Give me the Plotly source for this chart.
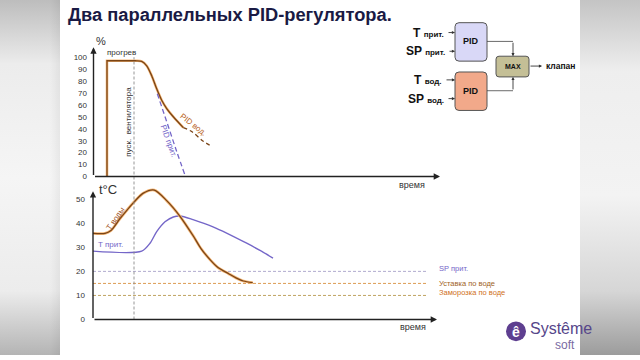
import base64
import plotly.graph_objects as go

W, H = 640, 360
# ---------------- data ----------------
# top chart: valve opening, % (time in arbitrary units)
warm_t = [14, 14, 41]
warm_v = [0, 97, 97]
pid_water_t = [41, 43.7, 48.7, 53.7, 58.7, 63.7, 68.7, 73.7, 80.3, 90.3]
pid_water_v = [97, 97, 96.5, 92.8, 84.5, 73.5, 63.9, 57, 50.1, 41]
pid_water_dash_t = [90.3, 98.7, 110.3, 118.7]
pid_water_dash_v = [41, 37.7, 29.5, 25.4]
pid_air_t = [64.3, 73.7, 83.7, 92.5]
pid_air_v = [69.4, 46, 21, 0]
fan_start_t = 41
top_ticks = [0, 10, 20, 30, 40, 50, 60, 70, 80, 90, 100]

# bottom chart: temperatures, °C
water_t = [0, 12, 18, 27, 41, 50.3, 61.3, 73.7, 87, 100.3, 108, 117, 125, 135.3, 143, 150.3, 159.7]
water_v = [35.8, 35.8, 37, 41.9, 48.8, 52.5, 53.8, 49.4, 42.9, 34.7, 29.5, 24.9, 21.6, 19.1, 17.3, 16, 15.3]
air_t = [0, 48.7, 57, 63.7, 72, 80.3, 87, 100, 120, 153.7, 167, 180]
air_v = [28.4, 28.4, 31.7, 36.5, 40.6, 42.6, 43, 41.5, 38.5, 31.7, 28.7, 25.5]
sp_air = 20
sp_water = 15
freeze_water = 10
bottom_ticks = [0, 10, 20, 30, 40, 50]
hline_end_t = 334

C_BROWN = "#7a4416"
C_GLOW = "#f5b878"
C_ORANGE = "#b8641e"
C_PURPLE = "#7466c8"
C_TEXT = "#333333"

def px(x):
    return x / W

def py(y):
    return 1 - y / H

fig = go.Figure()

# ---- background (side strips with gradients) ----
svg = f'''<svg xmlns="http://www.w3.org/2000/svg" width="{W}" height="{H}" viewBox="0 0 {W} {H}" preserveAspectRatio="none">
<defs>
<linearGradient id="l" x1="0" y1="0" x2="0" y2="1">
<stop offset="0" stop-color="#bdbdbd"/><stop offset="0.18" stop-color="#ececec"/>
<stop offset="0.5" stop-color="#f5f5f5"/><stop offset="0.82" stop-color="#ececec"/>
<stop offset="1" stop-color="#b4b4b4"/></linearGradient>
<linearGradient id="r" x1="0" y1="0" x2="0" y2="1">
<stop offset="0" stop-color="#c4c4c4"/><stop offset="0.2" stop-color="#eeeeee"/>
<stop offset="0.55" stop-color="#f3f3f3"/><stop offset="0.82" stop-color="#d6d6d6"/>
<stop offset="1" stop-color="#9c9c9c"/></linearGradient>
<linearGradient id="sh" x1="0" y1="0" x2="1" y2="0">
<stop offset="0" stop-color="#000" stop-opacity="0"/><stop offset="1" stop-color="#000" stop-opacity="0.05"/></linearGradient>
</defs>
<rect x="0" y="0" width="60" height="{H}" fill="url(#l)"/>
<rect x="50" y="0" width="10" height="{H}" fill="url(#sh)"/>
<rect x="580" y="0" width="60" height="{H}" fill="url(#r)"/>
<rect x="60" y="0" width="520" height="{H}" fill="#ffffff"/>
</svg>'''
src = "data:image/svg+xml;base64," + base64.b64encode(svg.encode()).decode()
fig.add_layout_image(dict(source=src, xref="paper", yref="paper", x=0, y=1,
                          sizex=1, sizey=1, xanchor="left", yanchor="top",
                          sizing="stretch", layer="below"))

# ---- top chart traces ----
fig.add_trace(go.Scatter(x=warm_t, y=warm_v, mode="lines", xaxis="x", yaxis="y",
                         line=dict(color=C_GLOW, width=2.6), hoverinfo="skip"))
fig.add_trace(go.Scatter(x=pid_water_t, y=pid_water_v, mode="lines", xaxis="x", yaxis="y",
                         line=dict(color=C_GLOW, width=2.6, shape="spline", smoothing=0.8), hoverinfo="skip"))
fig.add_trace(go.Scatter(x=warm_t, y=warm_v, mode="lines", xaxis="x", yaxis="y",
                         line=dict(color=C_BROWN, width=1.3), hoverinfo="skip"))
fig.add_trace(go.Scatter(x=pid_water_t, y=pid_water_v, mode="lines", xaxis="x", yaxis="y",
                         line=dict(color=C_BROWN, width=1.3, shape="spline", smoothing=0.8), hoverinfo="skip"))
fig.add_trace(go.Scatter(x=pid_water_dash_t, y=pid_water_dash_v, mode="lines", xaxis="x", yaxis="y",
                         line=dict(color=C_BROWN, width=1.3, dash="4px,3px", shape="spline"), hoverinfo="skip"))
fig.add_trace(go.Scatter(x=pid_air_t, y=pid_air_v, mode="lines", xaxis="x", yaxis="y",
                         line=dict(color=C_PURPLE, width=1.3, dash="5px,3px", shape="spline"), hoverinfo="skip"))

# ---- bottom chart traces ----
for yv, col in [(sp_air, "#a8a2c8"), (sp_water, "#d89040"), (freeze_water, "#b89a50")]:
    fig.add_trace(go.Scatter(x=[0, hline_end_t], y=[yv, yv], mode="lines", xaxis="x2", yaxis="y2",
                             line=dict(color=col, width=0.9, dash="3px,2px"), hoverinfo="skip"))
fig.add_trace(go.Scatter(x=air_t, y=air_v, mode="lines", xaxis="x2", yaxis="y2",
                         line=dict(color=C_PURPLE, width=1.4, shape="spline", smoothing=0.8), hoverinfo="skip"))
fig.add_trace(go.Scatter(x=water_t, y=water_v, mode="lines", xaxis="x2", yaxis="y2",
                         line=dict(color=C_GLOW, width=2.8, shape="spline", smoothing=0.8), hoverinfo="skip"))
fig.add_trace(go.Scatter(x=water_t, y=water_v, mode="lines", xaxis="x2", yaxis="y2",
                         line=dict(color=C_BROWN, width=1.3, shape="spline", smoothing=0.8), hoverinfo="skip"))

# fan start dashed vertical
fig.add_shape(type="line", xref="x", yref="paper", x0=fan_start_t, x1=fan_start_t,
              y0=py(324), y1=py(58), line=dict(color="#8a8a8a", width=0.9, dash="3px,2px"))

ax_common = dict(showgrid=False, zeroline=False, showline=False, ticks="",
                 tickfont=dict(size=8, color=C_TEXT, family="Liberation Sans, Arial"))
fig.update_layout(
    width=W, height=H, margin=dict(l=0, r=0, t=0, b=0),
    paper_bgcolor="#ffffff", plot_bgcolor="rgba(0,0,0,0)", showlegend=False,
    xaxis=dict(domain=[px(93), px(445)], range=[0, 352], anchor="y", showticklabels=False, **ax_common),
    yaxis=dict(domain=[py(179), py(40)], range=[0, (179 - 40) / 1.21], anchor="x",
               tickvals=top_ticks, ticklabelstandoff=5, **ax_common),
    xaxis2=dict(domain=[px(93), px(445)], range=[0, 352], anchor="y2", showticklabels=False, **ax_common),
    yaxis2=dict(domain=[py(324), py(180)], range=[0, (324 - 180) / 2.44], anchor="x2",
                tickvals=bottom_ticks, ticklabelstandoff=7, **ax_common),
)

ann = []
FONT = "Liberation Sans, Arial"

def arrow(xh, yh, xt, yt, xr, yr, w=1.4):
    ann.append(dict(x=xh, y=yh, ax=xt, ay=yt, xref=xr, yref=yr, axref=xr, ayref=yr,
                    text="", showarrow=True, arrowhead=2, arrowsize=0.9, arrowwidth=w,
                    arrowcolor="#222"))

# axes with arrows
arrow(347, 0, 0.5, 0, "x", "y")
arrow(0.5, (179 - 48) / 1.21, 0.5, 0, "x", "y")
arrow(344, 0, 0, 0, "x2", "y2")
arrow(0, (324 - 194) / 2.44, 0, 0, "x2", "y2")

def txt(x, y, s, size=8, color=C_TEXT, xa="center", ya="middle", angle=0, bold=False):
    ann.append(dict(x=px(x), y=py(y), xref="paper", yref="paper", text=(f"<b>{s}</b>" if bold else s),
                    showarrow=False, xanchor=xa, yanchor=ya, textangle=angle,
                    font=dict(size=size, color=color, family=FONT)))

txt(66, 15, "Два параллельных PID-регулятора.", size=18.3, color="#1a1a44", xa="left", bold=True)
txt(101, 42, "%", size=11)
txt(108, 192, "t°C", size=13)
txt(412, 188, "время", size=9)
txt(413, 332, "время", size=9)
txt(121, 53, "прогрев", size=8)
txt(128.5, 124, "пуск.  вентилятора", size=8, angle=-90)
txt(193, 126, "PID вод.", size=8, color=C_ORANGE, angle=38)
txt(169, 143, "PID прит.", size=8, color=C_PURPLE, angle=70)
txt(116, 222, "T воды", size=8, color="#a0521e", angle=-55)
txt(96, 248, "T прит.", size=8, color=C_PURPLE, xa="left")
txt(437, 272, "SP прит.", size=7.5, color=C_PURPLE, xa="left")
txt(437, 287, "Уставка по воде", size=7.5, color="#a0621e", xa="left")
txt(437, 297, "Заморозка по воде", size=7.5, color="#d07020", xa="left")

# ---- block diagram ----
def rbox(x0, y0, x1, y1, fill, r=4):
    X0, X1 = px(x0), px(x1)
    Y0, Y1 = py(y0), py(y1)
    rx, ry = r / W, r / H
    path = (f"M{X0+rx},{Y0} L{X1-rx},{Y0} Q{X1},{Y0} {X1},{Y0-ry} L{X1},{Y1+ry} "
            f"Q{X1},{Y1} {X1-rx},{Y1} L{X0+rx},{Y1} Q{X0},{Y1} {X0},{Y1+ry} "
            f"L{X0},{Y0-ry} Q{X0},{Y0} {X0+rx},{Y0} Z")
    fig.add_shape(type="path", xref="paper", yref="paper", path=path,
                  fillcolor=fill, line=dict(color="#555555", width=1))

rbox(455, 23, 487, 62, "#d9d8f7")
rbox(455, 73, 487, 112, "#f2a98a")
rbox(496, 57, 529, 78, "#c4bf96", r=3)
txt(471, 42, "PID", size=9, color="#111", bold=True)
txt(471, 92, "PID", size=9, color="#111", bold=True)
txt(512.5, 67.5, "MAX", size=7, color="#111", bold=True)

def seg(x0, y0, x1, y1):
    fig.add_shape(type="line", xref="paper", yref="paper", x0=px(x0), y0=py(y0), x1=px(x1), y1=py(y1),
                  line=dict(color="#444", width=0.8))

def parrow(xh, yh, xt, yt):
    ann.append(dict(x=px(xh), y=py(yh), ax=xt - xh, ay=yt - yh, xref="paper", yref="paper",
                    axref="pixel", ayref="pixel", text="", showarrow=True, arrowhead=2,
                    arrowsize=0.7, arrowwidth=0.9, arrowcolor="#333"))

seg(487, 42, 513, 42)
parrow(513, 57, 513, 42)
seg(487, 92, 513, 92)
parrow(513, 78, 513, 92)
parrow(542, 67, 529, 67)
txt(544, 67, "клапан", size=8.5, color="#111", xa="left", bold=True)

for (x_end, y, big, small) in [(446, 33, "T", "прит."), (447, 52, "SP", "прит."),
                               (444, 81, "T", "вод."), (446, 100, "SP", "вод.")]:
    ann.append(dict(x=px(x_end), y=py(y), xref="paper", yref="paper", showarrow=False,
                    xanchor="right", yanchor="middle",
                    text=f"<b>{big} <span style='font-size:8px'>{small}</span></b>",
                    font=dict(size=12, color="#111", family=FONT)))
    parrow(455, y, x_end + 1, y)

# ---- logo ----
fig.add_shape(type="circle", xref="paper", yref="paper", x0=px(506), x1=px(526), y0=py(346), y1=py(326),
              fillcolor="#5e3f90", line=dict(width=0))
txt(516, 336.5, "ê", size=14, color="#ffffff", bold=True)
txt(528, 333, "Systême", size=16, color="#56468a", xa="left")
txt(577, 350, "soft", size=12, color="#7a6aa2", xa="right")

fig.update_layout(annotations=ann)
fig.write_html("out.html", config={"displayModeBar": False},
               post_script="document.body.style.margin='0';document.body.style.overflow='hidden';")
